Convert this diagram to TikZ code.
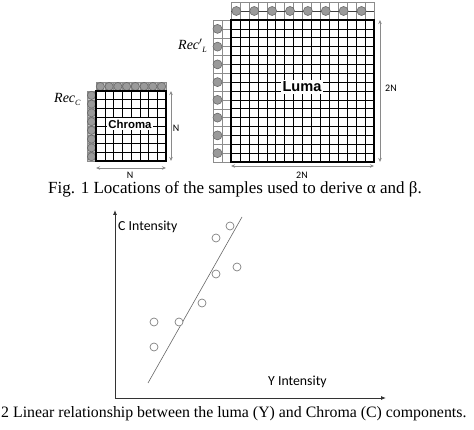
\documentclass[tikz,border=0pt]{standalone}
\usepackage{fontspec}
\setmainfont{Liberation Serif}
\newfontfamily\arialb{Liberation Sans}
\newfontfamily\calib{Carlito}
\usetikzlibrary{arrows.meta}
\definecolor{stripfill}{HTML}{C4C4C4}
\definecolor{circfill}{HTML}{9A9A9A}
\definecolor{circline}{HTML}{6A6A6A}
\definecolor{gridgray}{HTML}{8C8C8C}
\definecolor{arrowgray}{HTML}{8A8A8A}
\tikzset{
  sample/.style={circle,fill=circfill,draw=circline,line width=0.6pt,inner sep=0pt,minimum size=#1},
  dimarrow/.style={draw=arrowgray,line width=0.7pt,{Stealth[length=4pt,width=3.5pt,open]}-{Stealth[length=4pt,width=3.5pt,open]}},
  dimlabel/.style={font=\calib\fontsize{10}{11}\selectfont,inner sep=0pt},
  blocklabel/.style={fill=white,inner sep=1.5pt,font=\arialb\bfseries},
  caption/.style={font=\fontsize{17}{19}\selectfont,inner sep=0pt},
  axis/.style={draw=black!80,line width=0.8pt},
  scatterpt/.style={circle,draw=gray,line width=0.7pt,fill=white,minimum size=8pt,inner sep=0pt},
  axlabel/.style={font=\calib\fontsize{13.8}{15}\selectfont,inner sep=0pt,anchor=west}
}
\begin{document}
\begin{tikzpicture}[x=1pt,y=-1pt]
\useasboundingbox (0,0) rectangle (474,430);
% ---------- Chroma block ----------
\fill[stripfill] (96,82) rectangle (166,91);
\fill[stripfill] (87,91) rectangle (96,161);
\foreach \i in {0,...,7}{
  \draw[gridgray,line width=0.4pt] ({96+\i*8.75},82) rectangle ({96+(\i+1)*8.75},91);
  \draw[gridgray,line width=0.4pt] (87,{91+\i*8.75}) rectangle (96,{91+(\i+1)*8.75});
  \node[sample=8.2pt] (ct\i) at ({96+(\i+0.5)*8.75},86.5) {};
  \node[sample=8.2pt] (cl\i) at (91.5,{91+(\i+0.5)*8.75}) {};
}
\foreach \i in {1,...,7}{
  \draw[black,line width=0.5pt] ({96+\i*8.75},91) -- ({96+\i*8.75},161);
  \draw[black,line width=0.5pt] (96,{91+\i*8.75}) -- (166,{91+\i*8.75});
}
\draw[black,line width=1.2pt] (96,91) rectangle (166,161);
\node[blocklabel,font=\arialb\bfseries\fontsize{11.4}{12}\selectfont] (chroma) at (130,124) {Chroma};
\node[font=\itshape\fontsize{14}{15}\selectfont,anchor=base west,inner sep=0pt] (recc) at (54,103) {Rec\textsubscript{\fontsize{8}{9}\selectfont C}};
% dimensions
\coordinate (cv1) at (171,91); \coordinate (cv2) at (171,161);
\draw[dimarrow] (cv1) -- (cv2);
\node[dimlabel] (cn1) at (176,128) {N};
\coordinate (ch1) at (96,168); \coordinate (ch2) at (166,168);
\draw[dimarrow] (ch1) -- (ch2);
\node[dimlabel] (cn2) at (130,175) {N};
% ---------- Luma block ----------
\fill[white] (231,2) rectangle (374,20);
\foreach \i in {0,...,15}{
  \draw[gridgray,line width=0.4pt] ({231+\i*143/16},2) rectangle ({231+(\i+1)*143/16},11);
  \draw[gridgray,line width=0.4pt] ({231+\i*143/16},11) rectangle ({231+(\i+1)*143/16},20);
  \draw[gridgray,line width=0.4pt] (213,{20+\i*142/16}) rectangle (222,{20+(\i+1)*142/16});
  \draw[gridgray,line width=0.4pt] (222,{20+\i*142/16}) rectangle (231,{20+(\i+1)*142/16});
}
\draw[black!75,line width=0.6pt] (231,11) -- (374,11);
\foreach \i in {0,...,7}{
  \node[sample=9pt] (lt\i) at ({231+(2*\i+0.6)*143/16},11) {};
  \node[sample=9pt] (ll\i) at (217.5,{20+(2*\i+1)*142/16}) {};
}
\foreach \i in {1,...,15}{
  \draw[black,line width=0.5pt] ({231+\i*143/16},20) -- ({231+\i*143/16},162);
  \draw[black,line width=0.5pt] (231,{20+\i*142/16}) -- (374,{20+\i*142/16});
}
\draw[black,line width=1.2pt] (231,20) rectangle (374,162);
\node[blocklabel,font=\arialb\bfseries\fontsize{14.6}{16}\selectfont] (luma) at (302,87) {Luma};
\node[font=\itshape\fontsize{14}{15}\selectfont,anchor=base west,inner sep=0pt] (recl) at (178,50) {Rec$'$\textsubscript{\fontsize{8}{9}\selectfont\itshape L}};
\coordinate (lv1) at (380,20); \coordinate (lv2) at (380,162);
\draw[dimarrow] (lv1) -- (lv2);
\node[dimlabel] (ln1) at (391,88) {2N};
\coordinate (lh1) at (231,166); \coordinate (lh2) at (374,166);
\draw[dimarrow] (lh1) -- (lh2);
\node[dimlabel] (ln2) at (302,175) {2N};
% ---------- caption 1 ----------
\node[caption] (cap1) at (235,189.5) {Fig. 1 Locations of the samples used to derive α and β.};
% ---------- scatter plot ----------
\coordinate (origin) at (115,398);
\coordinate (ytop) at (115,210);
\coordinate (xend) at (386,398);
\draw[axis,-{Latex[length=5pt,width=4pt]}] (origin) -- (ytop);
\draw[axis,-{Latex[length=5pt,width=4pt]}] (origin) -- (xend);
\node[axlabel] (clab) at (118,227) {C Intensity};
\node[axlabel] (ylab) at (268,382) {Y Intensity};
\coordinate (fit1) at (148,383); \coordinate (fit2) at (242,217);
\draw[gray!80!black,line width=0.6pt] (fit1) -- (fit2);
\foreach \n/\x/\y in {p1/230/226,p2/216/238,p3/237/267,p4/216/274,p5/202/303,p6/179/322,p7/154/322,p8/154/347}{
  \node[scatterpt] (\n) at (\x,\y) {};
}
% ---------- caption 2 ----------
\node[caption,font=\fontsize{15.85}{18}\selectfont,anchor=west] (cap2) at (1,414) {2 Linear relationship between the luma (Y) and Chroma (C) components.};
\end{tikzpicture}
\end{document}
